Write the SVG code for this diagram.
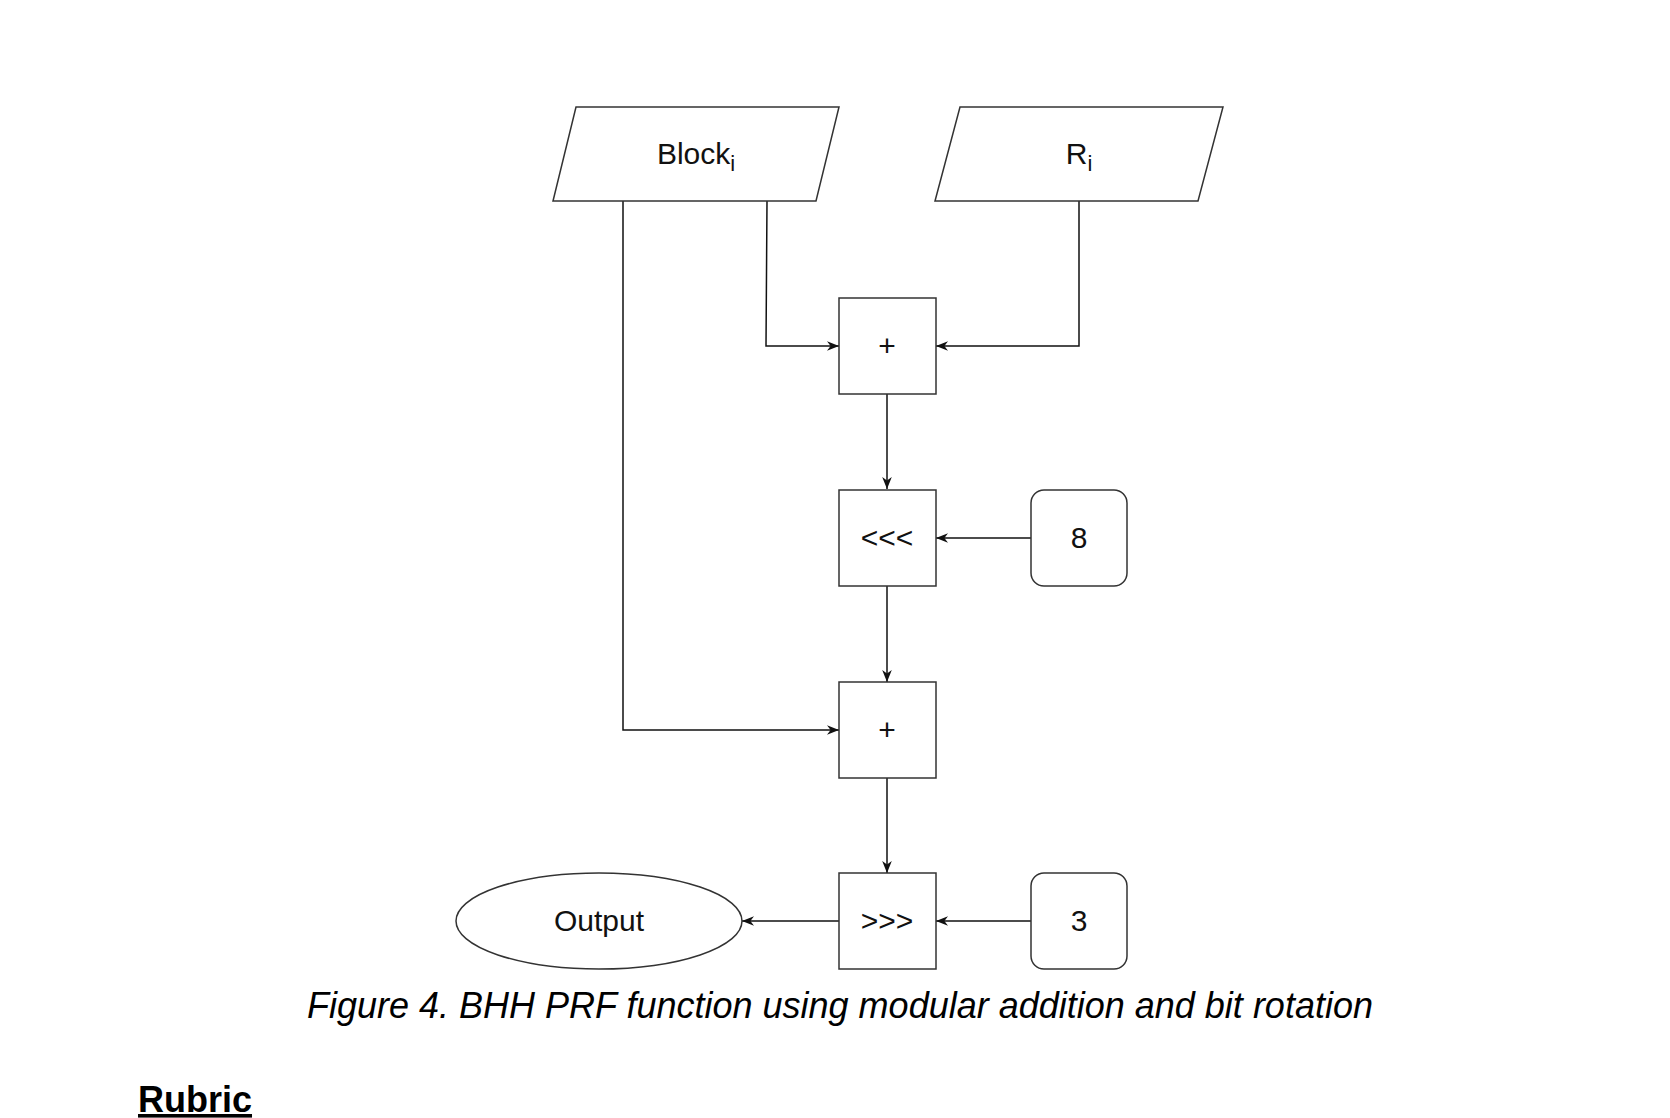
<svg xmlns="http://www.w3.org/2000/svg" width="1670" height="1118" viewBox="0 0 1670 1118">
<defs>
<style>
.shape{fill:#fff;stroke:#333;stroke-width:1.5}
.lbl{font-family:"Liberation Sans",Arial,sans-serif;font-size:30px;fill:#111;text-anchor:middle}
.edge{fill:none;stroke:#111;stroke-width:1.5}
</style>
<marker id="arr" viewBox="0 0 10 8" refX="10" refY="4" markerWidth="12" markerHeight="10" markerUnits="userSpaceOnUse" orient="auto">
<path d="M0,0 L10,4 L0,8 L3,4 z" fill="#111"/>
</marker>
</defs>
<rect width="1670" height="1118" fill="#fff"/>
<g id="connectors">
<path class="edge" d="M767,201 L766,346 L839,346" marker-end="url(#arr)"/>
<path class="edge" d="M1079,201 L1079,346 L936,346" marker-end="url(#arr)"/>
<path class="edge" d="M887,394 L887,489" marker-end="url(#arr)"/>
<path class="edge" d="M1031,538 L936,538" marker-end="url(#arr)"/>
<path class="edge" d="M887,586 L887,682" marker-end="url(#arr)"/>
<path class="edge" d="M623,201 L623,730 L839,730" marker-end="url(#arr)"/>
<path class="edge" d="M887,778 L887,873" marker-end="url(#arr)"/>
<path class="edge" d="M1031,921 L936,921" marker-end="url(#arr)"/>
<path class="edge" d="M839,921 L742,921" marker-end="url(#arr)"/>
</g>
<g id="block">
<polygon class="shape" points="576,107 839,107 816,201 553,201"/>
<text class="lbl" x="696" y="164">Block<tspan font-size="22" dy="7">i</tspan></text>
</g>
<g id="r">
<polygon class="shape" points="960,107 1223,107 1198,201 935,201"/>
<text class="lbl" x="1079" y="164">R<tspan font-size="22" dy="7">i</tspan></text>
</g>
<g id="plus1">
<rect class="shape" x="839" y="298" width="97" height="96"/>
<text class="lbl" x="887" y="356">+</text>
</g>
<g id="rotl">
<rect class="shape" x="839" y="490" width="97" height="96"/>
<text class="lbl" x="887" y="548">&lt;&lt;&lt;</text>
</g>
<g id="eight">
<rect class="shape" x="1031" y="490" width="96" height="96" rx="13"/>
<text class="lbl" x="1079" y="548">8</text>
</g>
<g id="plus2">
<rect class="shape" x="839" y="682" width="97" height="96"/>
<text class="lbl" x="887" y="740">+</text>
</g>
<g id="rotr">
<rect class="shape" x="839" y="873" width="97" height="96"/>
<text class="lbl" x="887" y="931">&gt;&gt;&gt;</text>
</g>
<g id="three">
<rect class="shape" x="1031" y="873" width="96" height="96" rx="13"/>
<text class="lbl" x="1079" y="931">3</text>
</g>
<g id="output">
<ellipse class="shape" cx="599" cy="921" rx="143" ry="48"/>
<text class="lbl" x="599" y="931">Output</text>
</g>
<text x="840" y="1018" font-family="'Liberation Sans',Arial,sans-serif" font-size="36" font-style="italic" text-anchor="middle" fill="#000">Figure 4. BHH PRF function using modular addition and bit rotation</text>
<text x="138" y="1112" font-family="'Liberation Sans',Arial,sans-serif" font-size="36" font-weight="bold" text-decoration="underline" fill="#000">Rubric</text>
</svg>
